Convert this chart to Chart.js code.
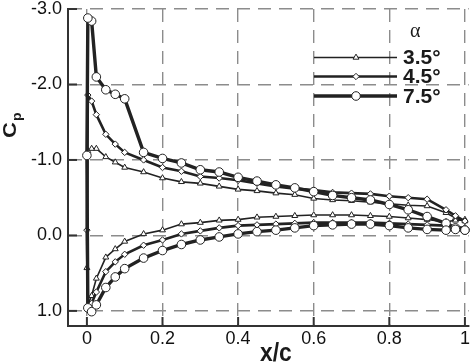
<!DOCTYPE html>
<html>
<head>
<meta charset="utf-8">
<script src="https://cdn.jsdelivr.net/npm/chart.js@4/dist/chart.umd.min.js"></script>
<style>
  html, body { margin: 0; padding: 0; background: #fff; }
  #wrap { width: 474px; height: 364px; }
</style>
</head>
<body>
<div id="wrap"><canvas id="c" width="474" height="364"></canvas></div>
<script>
// ---- data ----
const stations = [0.0025, 0.0125, 0.025, 0.05, 0.075, 0.1, 0.15, 0.2, 0.25, 0.3, 0.35, 0.4, 0.45, 0.5, 0.55, 0.6, 0.65, 0.7, 0.75, 0.8, 0.85, 0.9, 0.95, 0.975, 1.0];

const a35Upper = [-1.12, -1.15, -1.15, -1.04, -0.97, -0.90, -0.84, -0.76, -0.71, -0.69, -0.65, -0.61, -0.59, -0.56, -0.54, -0.49, -0.47, -0.46, -0.44, -0.42, -0.40, -0.39, -0.30, -0.23, -0.19];
const a35LE = 0.43;
const a35Lower = [0.92, 0.80, 0.57, 0.29, 0.18, 0.08, -0.02, -0.07, -0.15, -0.17, -0.20, -0.21, -0.24, -0.25, -0.26, -0.27, -0.27, -0.27, -0.26, -0.25, -0.23, -0.21, -0.18, -0.20, -0.21];

const a45Upper = [-1.86, -1.78, -1.60, -1.34, -1.21, -1.10, -1.00, -0.90, -0.85, -0.78, -0.76, -0.73, -0.69, -0.65, -0.62, -0.60, -0.57, -0.56, -0.55, -0.52, -0.50, -0.48, -0.34, -0.26, -0.19];
const a45LE = -0.07;
const a45Lower = [0.97, 0.90, 0.75, 0.48, 0.35, 0.25, 0.13, 0.06, -0.02, -0.06, -0.10, -0.13, -0.14, -0.15, -0.16, -0.17, -0.17, -0.17, -0.17, -0.16, -0.15, -0.14, -0.13, -0.11, -0.10];

const a75Upper = [-2.88, -2.84, -2.10, -1.93, -1.87, -1.81, -1.10, -1.02, -0.96, -0.87, -0.84, -0.77, -0.72, -0.67, -0.63, -0.58, -0.53, -0.50, -0.47, -0.41, -0.34, -0.25, -0.16, -0.10, -0.07];
const a75LE = -1.06;
const a75Lower = [0.96, 1.01, 0.92, 0.69, 0.55, 0.44, 0.30, 0.20, 0.12, 0.06, 0.02, -0.02, -0.05, -0.07, -0.10, -0.13, -0.14, -0.15, -0.15, -0.13, -0.10, -0.08, -0.07, -0.08, -0.07];

const seriesLabels = ['3.5°', '4.5°', '7.5°'];
const xTicks = [0, 0.2, 0.4, 0.6, 0.8, 1];
const yTicks = [-3, -2, -1, 0, 1];
const xTitle = 'x/c';
const yTitleMain = 'C';
const yTitleSub = 'p';
const legendTitle = 'α';

// ---- build closed loops (upper TE->LE, stagnation, lower LE->TE) ----
function loop(up, le, lo) {
  const u = stations.map((x, i) => ({ x: x, y: up[i] })).reverse();
  const l = stations.map((x, i) => ({ x: x, y: lo[i] }));
  return u.concat([{ x: 0, y: le }], l);
}

const ink = '#222222';
const styles = [
  { pointStyle: 'triangle', pointRadius: 3.4, borderWidth: 1.6 },
  { pointStyle: 'rectRot', pointRadius: 3.2, borderWidth: 2.6 },
  { pointStyle: 'circle', pointRadius: 4.3, borderWidth: 3.4 }
];
const loops = [loop(a35Upper, a35LE, a35Lower), loop(a45Upper, a45LE, a45Lower), loop(a75Upper, a75LE, a75Lower)];

const datasets = loops.map((d, i) => ({
  label: seriesLabels[i],
  data: d,
  borderColor: ink,
  borderWidth: styles[i].borderWidth,
  pointStyle: styles[i].pointStyle,
  pointRadius: styles[i].pointRadius,
  pointBackgroundColor: '#ffffff',
  pointBorderColor: ink,
  pointBorderWidth: 1,
  tension: 0,
  fill: false,
  clip: false,
  order: 3 - i
}));

function markerPath(ctx, style, r, x, y) {
  ctx.beginPath();
  if (style === 'circle') {
    ctx.arc(x, y, r, 0, Math.PI * 2);
  } else if (style === 'triangle') {
    ctx.moveTo(x, y - r);
    ctx.lineTo(x + r * 0.866, y + r * 0.5);
    ctx.lineTo(x - r * 0.866, y + r * 0.5);
    ctx.closePath();
  } else {
    ctx.moveTo(x, y - r);
    ctx.lineTo(x + r, y);
    ctx.lineTo(x, y + r);
    ctx.lineTo(x - r, y);
    ctx.closePath();
  }
}

const decor = {
  id: 'decor',
  beforeDatasetsDraw(chart) {
    const { ctx, chartArea, scales } = chart;
    const xs = scales.x, ys = scales.y;
    ctx.save();
    ctx.strokeStyle = '#333';
    ctx.lineWidth = 2;
    xTicks.forEach(v => {
      const px = xs.getPixelForValue(v);
      ctx.beginPath();
      ctx.moveTo(px, chartArea.bottom);
      ctx.lineTo(px, chartArea.bottom - 9);
      ctx.stroke();
    });
    yTicks.forEach(v => {
      const py = ys.getPixelForValue(v);
      ctx.beginPath();
      ctx.moveTo(chartArea.left, py);
      ctx.lineTo(chartArea.left + 9, py);
      ctx.stroke();
    });
    ctx.restore();
  },
  afterDraw(chart) {
    const { ctx, scales } = chart;
    const xs = scales.x;
    ctx.save();
    ctx.fillStyle = '#1a1a1a';
    // x axis title, centred on x/c = 0.5
    ctx.save();
    ctx.translate(xs.getPixelForValue(0.5), 361);
    ctx.scale(0.88, 1);
    ctx.font = 'bold 26px "Liberation Sans", Arial, sans-serif';
    ctx.textAlign = 'center';
    ctx.textBaseline = 'alphabetic';
    ctx.fillText(xTitle, 0, 0);
    ctx.restore();
    // y axis title C_p (rotated)
    ctx.save();
    ctx.translate(16, 138);
    ctx.rotate(-Math.PI / 2);
    ctx.scale(1, 0.85);
    ctx.textAlign = 'left';
    ctx.textBaseline = 'alphabetic';
    ctx.font = 'bold 22px "Liberation Sans", Arial, sans-serif';
    ctx.fillText(yTitleMain, 0, 0);
    const cw = ctx.measureText(yTitleMain).width;
    ctx.font = 'bold 14px "Liberation Sans", Arial, sans-serif';
    ctx.fillText(yTitleSub, cw + 1, 6);
    ctx.restore();
    // legend
    const lx1 = 314, lx2 = 397, lm = 356;
    const rows = [57.5, 76.5, 96];
    ctx.font = '20px "Liberation Serif", "DejaVu Serif", serif';
    ctx.textAlign = 'left';
    ctx.textBaseline = 'middle';
    ctx.fillText(legendTitle, 410, 32);
    rows.forEach((ry, i) => {
      ctx.strokeStyle = ink;
      ctx.lineWidth = styles[i].borderWidth;
      ctx.beginPath();
      ctx.moveTo(lx1, ry);
      ctx.lineTo(lx2, ry);
      ctx.stroke();
      markerPath(ctx, styles[i].pointStyle, styles[i].pointRadius, lm, ry);
      ctx.fillStyle = '#fff';
      ctx.fill();
      ctx.lineWidth = 1;
      ctx.stroke();
      ctx.fillStyle = '#1a1a1a';
      ctx.font = 'bold 21px "Liberation Sans", Arial, sans-serif';
      ctx.fillText(seriesLabels[i], 403, ry + 1);
    });
    ctx.restore();
  }
};

new Chart(document.getElementById('c'), {
  type: 'line',
  data: { datasets: datasets },
  plugins: [decor],
  options: {
    responsive: false,
    animation: false,
    devicePixelRatio: 1,
    layout: { padding: { top: 9, right: 3, left: 0, bottom: 0 } },
    plugins: { legend: { display: false }, tooltip: { enabled: false } },
    scales: {
      x: {
        type: 'linear',
        min: -0.05,
        max: 1.01,
        afterBuildTicks: s => { s.ticks = xTicks.map(v => ({ value: v })); },
        afterFit: s => { s.height = 38; },
        ticks: {
          color: '#111',
          padding: 2,
          maxRotation: 0,
          autoSkip: false,
          font: { family: '"Liberation Sans", Arial, sans-serif', size: 18 },
          callback: v => (v === 0 ? '0' : v === 1 ? '1' : v.toFixed(1))
        },
        grid: { color: '#8c8c8c', lineWidth: 1.4, drawTicks: false },
        border: { display: true, color: '#333', width: 2, dash: [13, 8] }
      },
      y: {
        type: 'linear',
        reverse: true,
        min: -3,
        max: 1.2,
        afterBuildTicks: s => { s.ticks = yTicks.map(v => ({ value: v })); },
        afterFit: s => { s.width = 68; },
        ticks: {
          color: '#111',
          padding: 6,
          autoSkip: false,
          font: { family: '"Liberation Sans", Arial, sans-serif', size: 18, lineHeight: 0.2 },
          callback: v => v.toFixed(1)
        },
        grid: { color: '#8c8c8c', lineWidth: 1.4, drawTicks: false },
        border: { display: true, color: '#333', width: 2, dash: [13, 8] }
      }
    }
  }
});
</script>
</body>
</html>
